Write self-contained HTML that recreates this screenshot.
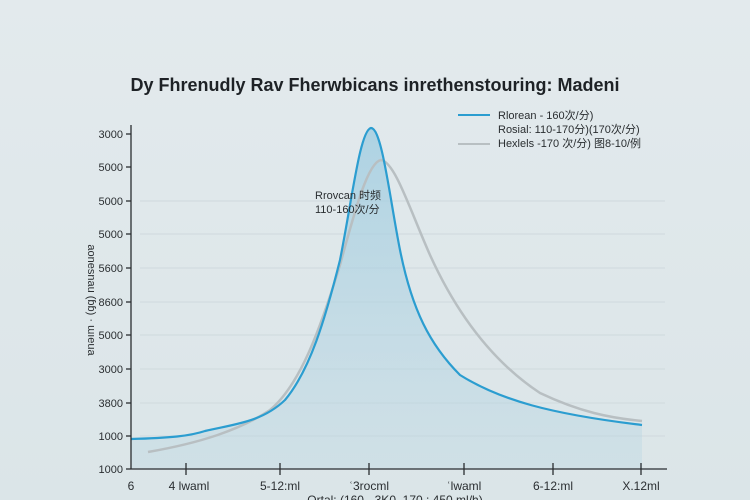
<!DOCTYPE html>
<html><head><meta charset="utf-8"><style>
html,body{margin:0;padding:0}
body{width:750px;height:500px;overflow:hidden;background:linear-gradient(180deg,#e3eaed 0%,#dbe5e8 100%);font-family:"Liberation Sans","Noto Sans CJK SC",sans-serif}
svg{display:block}
</style></head><body>
<svg width="750" height="500" viewBox="0 0 750 500" xmlns="http://www.w3.org/2000/svg" font-family="Liberation Sans, Noto Sans CJK SC, sans-serif">
<defs><linearGradient id="f" x1="0" y1="0" x2="0" y2="1"><stop offset="0" stop-color="#9ccbe0" stop-opacity="0.75"/><stop offset="1" stop-color="#b9d6e2" stop-opacity="0.35"/></linearGradient></defs>
<text x="375" y="91" text-anchor="middle" font-size="18" font-weight="bold" fill="#1e2226">Dy Fhrenudly Rav Fherwbicans inrethenstouring: Madeni</text>
<g stroke="#cfd9dd" stroke-width="1">
<line x1="140" y1="201" x2="665" y2="201"/><line x1="140" y1="234" x2="665" y2="234"/><line x1="140" y1="268" x2="665" y2="268"/><line x1="140" y1="302" x2="665" y2="302"/><line x1="140" y1="335" x2="665" y2="335"/><line x1="140" y1="369" x2="665" y2="369"/><line x1="140" y1="403" x2="665" y2="403"/><line x1="140" y1="436" x2="665" y2="436"/>
</g>
<path d="M131,439 C170,438 190,436 205,431 C235,424 262,422 285,400 C310,370 325,320 340,260 C352,200 360,130 371,128 C382,128 390,200 400,250 C412,310 430,345 460,375 C500,400 550,414 642,425 L642,469 L131,469 Z" fill="url(#f)"/>
<path d="M148,452 C200,443 240,430 270,410 C300,385 320,330 340,265 C355,210 368,162 381,160 C395,162 410,210 430,255 C455,310 490,360 540,393 C580,412 610,418 642,421" fill="none" stroke="#b8bfc2" stroke-width="2.5"/>
<path d="M131,439 C170,438 190,436 205,431 C235,424 262,422 285,400 C310,370 325,320 340,260 C352,200 360,130 371,128 C382,128 390,200 400,250 C412,310 430,345 460,375 C500,400 550,414 642,425" fill="none" stroke="#2b9dd0" stroke-width="2.2"/>
<g stroke="#2a2e31" stroke-width="1.3">
<line x1="131" y1="125" x2="131" y2="469"/><line x1="131" y1="469" x2="667" y2="469"/>
<line x1="126" y1="134" x2="131" y2="134"/><line x1="126" y1="167" x2="131" y2="167"/><line x1="126" y1="201" x2="131" y2="201"/><line x1="126" y1="234" x2="131" y2="234"/><line x1="126" y1="268" x2="131" y2="268"/><line x1="126" y1="302" x2="131" y2="302"/><line x1="126" y1="335" x2="131" y2="335"/><line x1="126" y1="369" x2="131" y2="369"/><line x1="126" y1="403" x2="131" y2="403"/><line x1="126" y1="436" x2="131" y2="436"/><line x1="126" y1="469" x2="131" y2="469"/>
<line x1="186" y1="463" x2="186" y2="475"/><line x1="280" y1="463" x2="280" y2="475"/><line x1="369" y1="463" x2="369" y2="475"/><line x1="464" y1="463" x2="464" y2="475"/><line x1="553" y1="463" x2="553" y2="475"/><line x1="641" y1="463" x2="641" y2="475"/>
</g>
<g font-size="11" fill="#2a2e31" text-anchor="end">
<text x="123" y="138">3000</text><text x="123" y="171">5000</text><text x="123" y="205">5000</text><text x="123" y="238">5000</text><text x="123" y="272">5600</text><text x="123" y="306">8600</text><text x="123" y="339">5000</text><text x="123" y="373">3000</text><text x="123" y="407">3800</text><text x="123" y="440">1000</text><text x="123" y="473">1000</text>
</g>
<g font-size="12" fill="#2a2e31" text-anchor="middle">
<text x="131" y="490">6</text><text x="189" y="490">4 lwaml</text><text x="280" y="490">5-12:ml</text><text x="369" y="490">ʿ3rocml</text><text x="464" y="490">ʿlwaml</text><text x="553" y="490">6-12:ml</text><text x="641" y="490">X.12ml</text>
<text x="395" y="504">Ortal: (160 - 3K0, 170 : 450 ml/h)</text>
</g>
<text transform="translate(88,300) rotate(90)" font-size="11" fill="#2a2e31" text-anchor="middle">aonesnau (ɓɓ) · ɯıeua</text>
<text x="315" y="199" font-size="11" fill="#2a2e31">Rrovcan 时频</text>
<text x="315" y="213" font-size="11" fill="#2a2e31">110-160次/分</text>
<line x1="458" y1="115" x2="490" y2="115" stroke="#2b9dd0" stroke-width="2"/>
<line x1="458" y1="144" x2="490" y2="144" stroke="#b8bfc2" stroke-width="2"/>
<g font-size="11" fill="#2a2e31">
<text x="498" y="119">Rlorean - 160次/分)</text>
<text x="498" y="133">Rosial: 110-170分)(170次/分)</text>
<text x="498" y="147">Hexlels -170 次/分) 图8-10/例</text>
</g>
</svg>
</body></html>
